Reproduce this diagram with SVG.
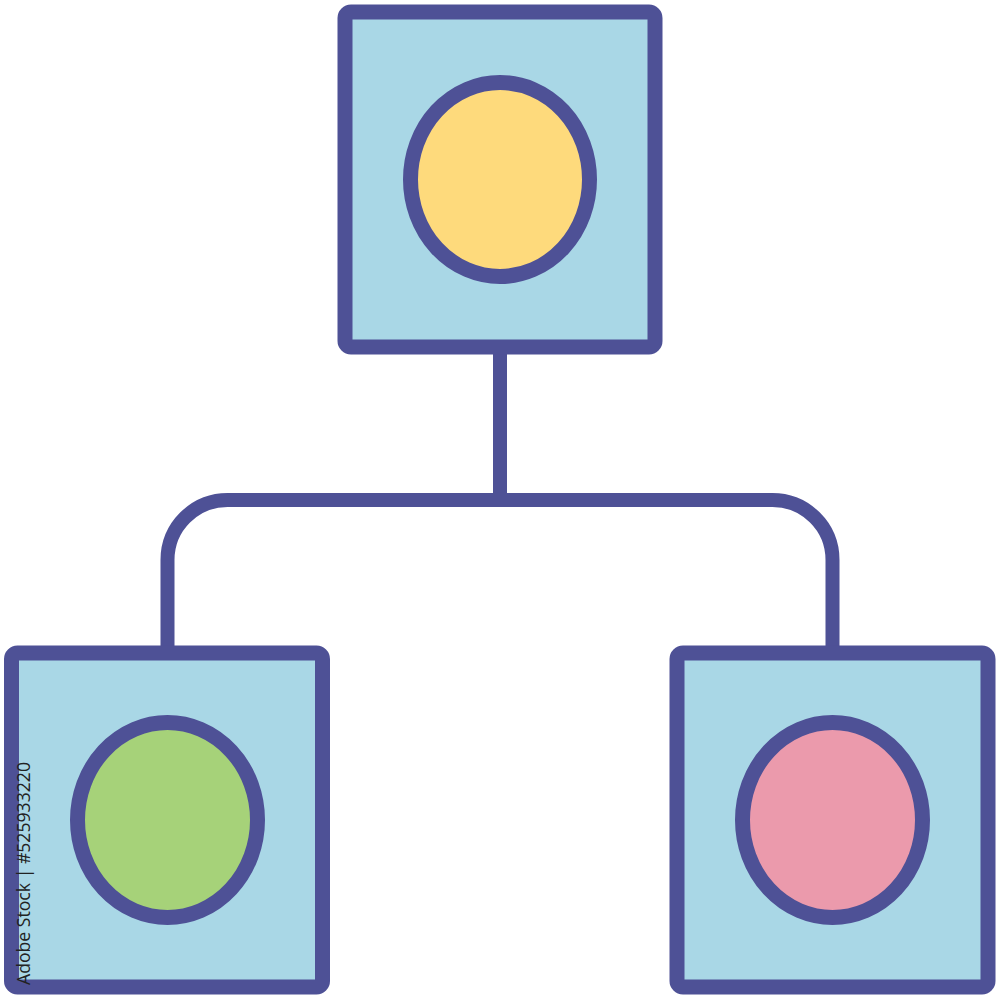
<svg xmlns="http://www.w3.org/2000/svg" width="1000" height="1000" viewBox="0 0 1000 1000">
<style>
.box{fill:#A9D7E6;stroke:#4E5196;stroke-width:15}
.dot{stroke:#4E5196;stroke-width:15}
.wire{fill:none;stroke:#4E5196;stroke-width:14}
.stamp{font-family:"Open Sans","Liberation Sans",sans-serif;font-size:19px;fill:#222222}
</style>
<rect width="1000" height="1000" fill="#ffffff"/>
<g id="connectors">
<path class="wire" d="M500,350 V500"/>
<path class="wire" d="M167.5,650 V560 A60,60 0 0 1 227.5,500 H772.5 A60,60 0 0 1 832.5,560 V650"/>
</g>
<g id="node-top">
<rect class="box" x="345" y="12" width="310" height="335" rx="6"/>
<ellipse class="dot" cx="500" cy="179.5" rx="89.5" ry="97" fill="#FEDA7C"/>
</g>
<g id="node-left">
<rect class="box" x="11.5" y="653" width="311" height="334" rx="6"/>
<ellipse class="dot" cx="167.5" cy="820" rx="90" ry="97.5" fill="#A6D279"/>
</g>
<g id="node-right">
<rect class="box" x="677" y="653" width="311" height="334" rx="6"/>
<ellipse class="dot" cx="832.5" cy="820" rx="90" ry="97.5" fill="#EB9AAC"/>
</g>
<text class="stamp" transform="translate(29.5,985) rotate(-90)" textLength="223" lengthAdjust="spacingAndGlyphs">Adobe Stock | #525933220</text>
</svg>
